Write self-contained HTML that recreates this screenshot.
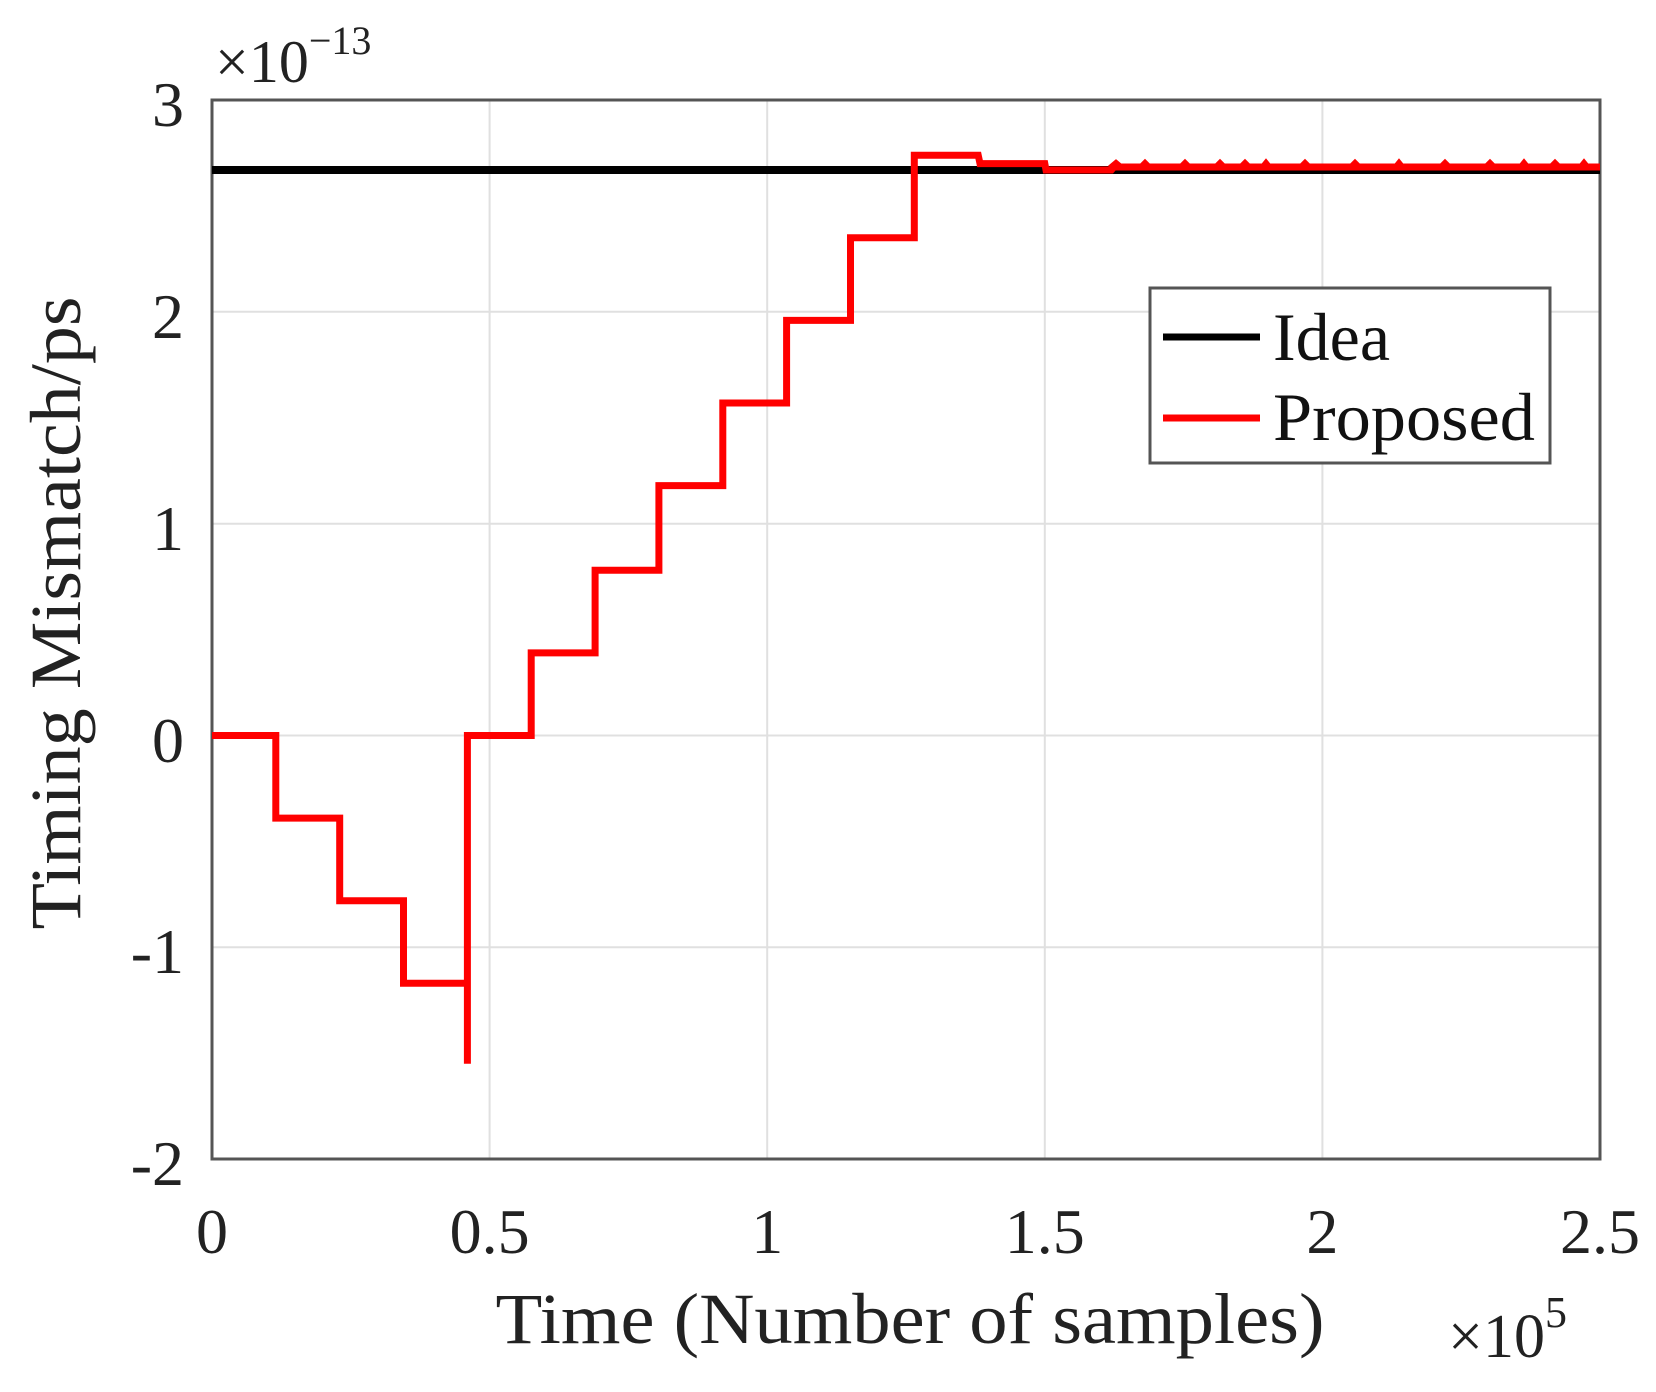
<!DOCTYPE html>
<html><head><meta charset="utf-8"><style>html,body{margin:0;padding:0;background:#fff}svg{display:block}</style></head>
<body>
<svg width="1656" height="1392" viewBox="0 0 1656 1392" xmlns="http://www.w3.org/2000/svg" font-family="Liberation Serif, serif" fill="#222">
<rect width="1656" height="1392" fill="#fff"/>
<g stroke="#e0e0e0" stroke-width="2">
<line x1="489.6" y1="100" x2="489.6" y2="1159"/><line x1="767.2" y1="100" x2="767.2" y2="1159"/><line x1="1044.8" y1="100" x2="1044.8" y2="1159"/><line x1="1322.4" y1="100" x2="1322.4" y2="1159"/>
<line x1="212" y1="311.8" x2="1600" y2="311.8"/><line x1="212" y1="523.7" x2="1600" y2="523.7"/><line x1="212" y1="735.5" x2="1600" y2="735.5"/><line x1="212" y1="947.3" x2="1600" y2="947.3"/>
</g>
<rect x="212" y="100" width="1388" height="1059" fill="none" stroke="#555" stroke-width="3"/>
<line x1="212" y1="170" x2="1600" y2="170" stroke="#000" stroke-width="8"/>
<polyline fill="none" stroke="#f00" stroke-width="7" stroke-linejoin="miter" points="212,735.5 275.8,735.5 275.8,818.1 339.7,818.1 339.7,900.7 403.5,900.7 403.5,983.3 467.4,983.3 467.4,1063.8 467.4,735.5 531.2,735.5 531.2,652.9 595.1,652.9 595.1,570.3 658.9,570.3 658.9,485.6 722.8,485.6 722.8,403 786.6,403 786.6,320.4 850.5,320.4 850.5,237.8 914.3,237.8 914.3,155.2 978.2,155.2 980,163.6 1044.8,163.6 1046,170 1111.4,170 1114,167 1600,167"/>
<path d="M1110 168l6-5 6 5M1140 168l5-5 5 5M1180 168l5-5 5 5M1215 168l5-5 5 5M1240 168l5-5 5 5M1262 168l4-5 4 5M1300 168l5-5 5 5M1350 168l5-5 5 5M1395 168l4-5 4 5M1440 168l5-5 5 5M1485 168l5-5 5 5M1520 168l4-5 4 5M1550 168l5-5 5 5M1580 168l4-5 4 5" fill="none" stroke="#f00" stroke-width="6"/>
<rect x="1150" y="288" width="400" height="175" fill="#fff" stroke="#555" stroke-width="3"/>
<line x1="1163" y1="337" x2="1260" y2="337" stroke="#000" stroke-width="7"/>
<line x1="1163" y1="418" x2="1260" y2="418" stroke="#f00" stroke-width="7"/>
<text x="1273" y="360" font-size="68" fill="#111">Idea</text>
<text x="1273" y="440" font-size="68" fill="#111" textLength="262" lengthAdjust="spacingAndGlyphs">Proposed</text>
<g font-size="64" text-anchor="end">
<text x="184" y="126">3</text><text x="184" y="338">2</text><text x="184" y="550">1</text><text x="184" y="762">0</text><text x="184" y="973">-1</text><text x="184" y="1185">-2</text>
</g>
<g font-size="64" text-anchor="middle">
<text x="212" y="1253">0</text><text x="489.6" y="1253">0.5</text><text x="767.2" y="1253">1</text><text x="1044.8" y="1253">1.5</text><text x="1322.4" y="1253">2</text><text x="1600" y="1253">2.5</text>
</g>
<text x="910" y="1343" font-size="72" text-anchor="middle" textLength="829" lengthAdjust="spacingAndGlyphs">Time (Number of samples)</text>
<text transform="translate(80,613) rotate(-90)" font-size="72" text-anchor="middle" textLength="633" lengthAdjust="spacingAndGlyphs">Timing Mismatch/ps</text>
<text x="215" y="82" font-size="60">×10<tspan font-size="40" dy="-28">−13</tspan></text>
<text x="1448" y="1357" font-size="62">×10<tspan font-size="44" dy="-30">5</tspan></text>
</svg>
</body></html>
